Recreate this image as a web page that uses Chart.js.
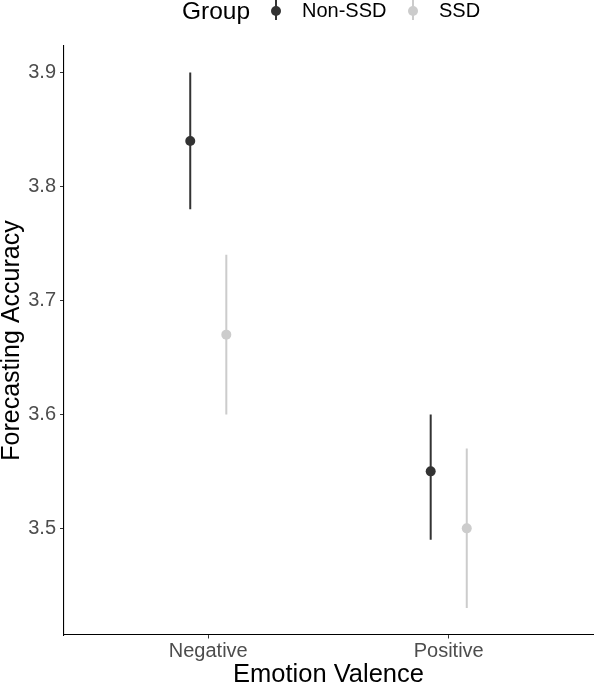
<!DOCTYPE html>
<html>
<head>
<meta charset="utf-8">
<script src="https://cdn.jsdelivr.net/npm/chart.js@4/dist/chart.umd.min.js"></script>
<style>
  html, body { margin: 0; padding: 0; background: #fff; }
  #wrap { position: relative; width: 598px; height: 685px; font-family: "Liberation Sans", Arial, sans-serif; }
  #legend { position: absolute; left: 0; top: 0; width: 598px; height: 40px; }
  .lg-title { position: absolute; left: 182px; top: -3px; font-size: 24.5px; color: #000; }
  .lg-label { position: absolute; top: -1px; font-size: 20px; color: #000; }
  .lg-key { position: absolute; top: 0; width: 12px; height: 20px; }
  .lg-key .ln { position: absolute; left: 5px; top: 0; width: 2px; height: 20px; }
  .lg-key .dt { position: absolute; left: 1px; top: 6px; width: 10px; height: 10px; border-radius: 50%; }
</style>
</head>
<body>
<div id="wrap">
  <canvas id="c" width="598" height="685"></canvas>
  <div id="legend"></div>
</div>
<script>
// ---- data ----
const categories = ['Negative', 'Positive'];
const groups = ['Non-SSD', 'SSD'];
const groupColors = ['#333333', '#cccccc'];
const nonSsdMean  = [3.84, 3.55];
const nonSsdLower = [3.78, 3.49];
const nonSsdUpper = [3.90, 3.60];
const ssdMean  = [3.67, 3.50];
const ssdLower = [3.60, 3.43];
const ssdUpper = [3.74, 3.57];
const yTicks = [3.5, 3.6, 3.7, 3.8, 3.9];

const means = [nonSsdMean, ssdMean];
const lowers = [nonSsdLower, ssdLower];
const uppers = [nonSsdUpper, ssdUpper];
const dodge = [-0.075, 0.075];

// ---- legend (HTML) ----
const legend = document.getElementById('legend');
legend.innerHTML = '<span class="lg-title">Group</span>';
const keyX = [270, 407];
const labelX = [302, 439];
groups.forEach((g, i) => {
  const k = document.createElement('div');
  k.className = 'lg-key';
  k.style.left = keyX[i] + 'px';
  k.innerHTML = '<div class="ln" style="background:' + groupColors[i] + '"></div><div class="dt" style="background:' + groupColors[i] + '"></div>';
  legend.appendChild(k);
  const l = document.createElement('span');
  l.className = 'lg-label';
  l.style.left = labelX[i] + 'px';
  l.textContent = g;
  legend.appendChild(l);
});

// ---- datasets ----
const datasets = [];
groups.forEach((g, gi) => {
  datasets.push({
    type: 'line',
    label: g + ' CI',
    data: categories.flatMap((c, i) => [
      { x: i + 1 + dodge[gi], y: lowers[gi][i] },
      { x: i + 1 + dodge[gi], y: uppers[gi][i] },
      { x: i + 1 + dodge[gi], y: null }
    ]),
    borderColor: groupColors[gi],
    borderWidth: 2,
    pointRadius: 0,
    showLine: true,
    spanGaps: false,
    order: 1
  });
  datasets.push({
    type: 'scatter',
    label: g,
    data: categories.map((c, i) => ({ x: i + 1 + dodge[gi], y: means[gi][i] })),
    backgroundColor: groupColors[gi],
    borderColor: groupColors[gi],
    borderWidth: 0,
    pointRadius: 5,
    order: 0
  });
});

const fam = '"Liberation Sans", Arial, sans-serif';
const tickFont = { family: fam, size: 20 };
const xTickValues = categories.map((c, i) => i + 1);
const tickCol = (vals) => (ctx) => (ctx.tick && vals.some(v => Math.abs(v - ctx.tick.value) < 1e-6)) ? '#333333' : 'rgba(0,0,0,0)';

new Chart(document.getElementById('c'), {
  type: 'scatter',
  data: { datasets },
  options: {
    responsive: false,
    devicePixelRatio: 1,
    animation: false,
    layout: { padding: { top: 46, left: 0, right: 0, bottom: 0 } },
    plugins: { legend: { display: false }, tooltip: { enabled: false } },
    scales: {
      x: {
        type: 'linear',
        min: 0.4,
        max: 2.6,
        afterBuildTicks: (s) => { s.ticks = xTickValues.map(v => ({ value: v })); },
        afterFit: (s) => { s.height = 50; },
        ticks: {
          callback: (v) => categories[Math.round(v) - 1] || '',
          font: tickFont,
          color: '#4d4d4d',
          padding: 1,
          maxRotation: 0,
          autoSkip: false
        },
        grid: { drawOnChartArea: false, tickLength: 3.5, color: tickCol(xTickValues), tickColor: tickCol(xTickValues), tickWidth: 1 },
        border: { color: '#000', width: 1.1 },
        title: { display: true, text: 'Emotion Valence', font: { family: fam, size: 25.5, lineHeight: 0.8 }, color: '#000', padding: { top: 0, bottom: 0 } }
      },
      y: {
        type: 'linear',
        min: 3.4064,
        max: 3.9233,
        afterBuildTicks: (s) => { s.ticks = yTicks.map(v => ({ value: v })); },
        afterFit: (s) => { s.width = 64; },
        ticks: {
          callback: (v) => Number(v).toFixed(1),
          font: tickFont,
          color: '#4d4d4d',
          padding: 4
        },
        grid: { drawOnChartArea: false, tickLength: 4, color: tickCol(yTicks), tickColor: tickCol(yTicks), tickWidth: 1 },
        border: { color: '#000', width: 1.1 },
        title: { display: true, text: 'Forecasting Accuracy', font: { family: fam, size: 25, lineHeight: 1 }, color: '#000', padding: { top: 0, bottom: 0 } }
      }
    }
  }
});
</script>
</body>
</html>
